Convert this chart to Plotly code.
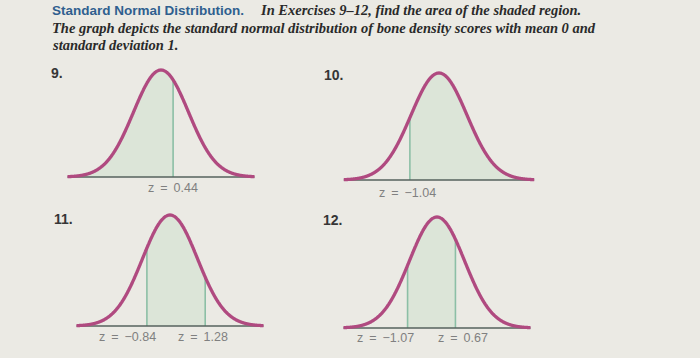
import numpy as np
import plotly.graph_objects as go

W, H = 700, 358

# ---- data ----
exercise_numbers = ["9.", "10.", "11.", "12."]
cutoffs_9 = [0.44]
cutoffs_10 = [-1.04]
cutoffs_11 = [-0.84, 1.28]
cutoffs_12 = [-1.07, 0.67]
shade_9 = (-3.4, 0.44)
shade_10 = (-1.04, 3.4)
shade_11 = (-0.84, 1.28)
shade_12 = (-1.07, 0.67)

header_bold = "Standard Normal Distribution."
header_line1 = "In Exercises 9–12, find the area of the shaded region."
header_line2 = "The graph depicts the standard normal distribution of bone density scores with mean 0 and"
header_line3 = "standard deviation 1."

# ---- styles / layout geometry (pixels) ----
BG = "#ebeae4"
CURVE = "#b04a80"
FILL = "#dce5d8"
VLINE = "#8cbfa6"
BASE = "#56625e"
LABEL = "#808080"

panels = [
    dict(num=exercise_numbers[0], cuts=cutoffs_9, shade=shade_9, c=161, s=27.5, yb=177, yp=70,
         numpos=(57, 73), labels=[(173, 188)]),
    dict(num=exercise_numbers[1], cuts=cutoffs_10, shade=shade_10, c=439, s=28.0, yb=180, yp=73,
         numpos=(333, 75), labels=[(407, 193)]),
    dict(num=exercise_numbers[2], cuts=cutoffs_11, shade=shade_11, c=170, s=27.5, yb=326, yp=215,
         numpos=(63, 219), labels=[(127, 337), (203, 337)]),
    dict(num=exercise_numbers[3], cuts=cutoffs_12, shade=shade_12, c=437, s=27.5, yb=328, yp=217,
         numpos=(332, 220), labels=[(385, 338), (463, 338)]),
]

XR = (-3.7, 3.7)
YR = (-0.015, 0.42)
ZMAX = 3.4


def pdf(z):
    return np.exp(-0.5 * z ** 2) / np.sqrt(2 * np.pi)


def fmt(z):
    s = f"{abs(z):.2f}"
    sp = "\u2009"
    return (f"z{sp} = {sp}−" + s) if z < 0 else (f"z{sp} = {sp}" + s)


fig = go.Figure()
layout_axes = {}
annotations = []

for i, p in enumerate(panels, start=1):
    xa = "x" if i == 1 else f"x{i}"
    ya = "y" if i == 1 else f"y{i}"
    xkey = "xaxis" if i == 1 else f"xaxis{i}"
    ykey = "yaxis" if i == 1 else f"yaxis{i}"

    x0 = p["c"] + XR[0] * p["s"]
    x1 = p["c"] + XR[1] * p["s"]
    k = (p["yb"] - p["yp"]) / pdf(0.0)
    ytop = p["yb"] - k * YR[1]
    ybot = p["yb"] - k * YR[0]
    layout_axes[xkey] = dict(domain=[x0 / W, x1 / W], range=list(XR), visible=False,
                             anchor=ya, fixedrange=True)
    layout_axes[ykey] = dict(domain=[1 - ybot / H, 1 - ytop / H], range=list(YR), visible=False,
                             anchor=xa, fixedrange=True)

    # shaded area
    a, b = p["shade"]
    zs = np.linspace(a, b, 300)
    fig.add_trace(go.Scatter(x=zs, y=pdf(zs), xaxis=xa, yaxis=ya, mode="lines",
                             line=dict(width=0, color=FILL), fill="tozeroy",
                             fillcolor=FILL, hoverinfo="skip", showlegend=False))
    # vertical cut lines
    for z in p["cuts"]:
        fig.add_trace(go.Scatter(x=[z, z], y=[0, pdf(z)], xaxis=xa, yaxis=ya, mode="lines",
                                 line=dict(width=1.6, color=VLINE), hoverinfo="skip",
                                 showlegend=False))
    # baseline
    fig.add_trace(go.Scatter(x=[-ZMAX, ZMAX], y=[0, 0], xaxis=xa, yaxis=ya, mode="lines",
                             line=dict(width=1.6, color=BASE), hoverinfo="skip",
                             showlegend=False))
    # curve
    zc = np.linspace(-ZMAX, ZMAX, 400)
    fig.add_trace(go.Scatter(x=zc, y=pdf(zc), xaxis=xa, yaxis=ya, mode="lines",
                             line=dict(width=3.3, color=CURVE, shape="spline"),
                             hoverinfo="skip", showlegend=False))

    # panel number
    nx, ny = p["numpos"]
    annotations.append(dict(text=f"<b>{p['num']}</b>", x=nx / W, y=1 - ny / H,
                            xref="paper", yref="paper", showarrow=False,
                            xanchor="center", yanchor="middle",
                            font=dict(family="Liberation Sans", size=14, color="#363636")))
    # z labels
    for z, (lx, ly) in zip(p["cuts"], p["labels"]):
        annotations.append(dict(text=fmt(z), x=lx / W, y=1 - ly / H,
                                xref="paper", yref="paper", showarrow=False,
                                xanchor="center", yanchor="middle",
                                font=dict(family="Liberation Sans", size=12.5, color=LABEL)))

# header text
annotations.append(dict(text=f"<b>{header_bold}</b>", x=50 / W, y=1 - 10 / H, xref="paper",
                        yref="paper", showarrow=False, xanchor="left", yanchor="middle",
                        font=dict(family="Liberation Sans", size=13.5, color="#2f5f8f")))
annotations.append(dict(text=f"<b><i>{header_line1}</i></b>", x=258 / W, y=1 - 10 / H,
                        xref="paper", yref="paper", showarrow=False, xanchor="left",
                        yanchor="middle",
                        font=dict(family="Liberation Serif", size=14.5, color="#2a2a2a")))
annotations.append(dict(text=f"<b><i>{header_line2}</i></b>", x=50 / W, y=1 - 28 / H,
                        xref="paper", yref="paper", showarrow=False, xanchor="left",
                        yanchor="middle",
                        font=dict(family="Liberation Serif", size=14.5, color="#2a2a2a")))
annotations.append(dict(text=f"<b><i>{header_line3}</i></b>", x=50 / W, y=1 - 45 / H,
                        xref="paper", yref="paper", showarrow=False, xanchor="left",
                        yanchor="middle",
                        font=dict(family="Liberation Serif", size=14.5, color="#2a2a2a")))

fig.update_layout(width=W, height=H, margin=dict(l=0, r=0, t=0, b=0),
                  paper_bgcolor=BG, plot_bgcolor="rgba(0,0,0,0)",
                  annotations=annotations, showlegend=False, **layout_axes)

fig.write_html("out.html", config=dict(displayModeBar=False))
